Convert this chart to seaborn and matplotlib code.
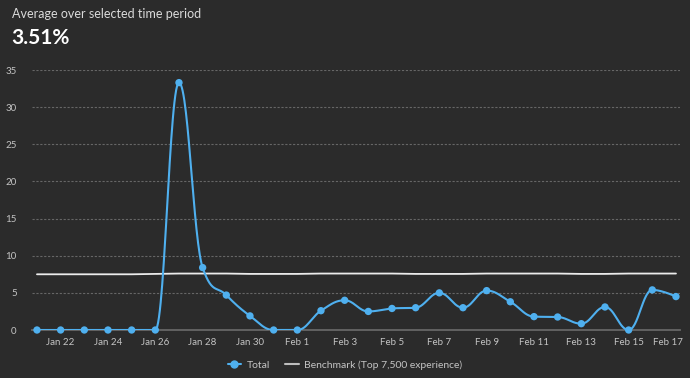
import seaborn as sns
import matplotlib.pyplot as plt
import matplotlib.transforms as mtransforms
import pandas as pd
import numpy as np
import warnings
warnings.filterwarnings('ignore')

# data, one value per day Jan 21 .. Feb 17
dates = pd.date_range("2024-01-21", "2024-02-17", freq="D")
total = [0, 0, 0, 0, 0, 0, 33.3, 8.4, 4.7, 1.9, 0, 0,
         2.6, 4.0, 2.5, 2.9, 3.0, 5.0, 3.0, 5.3, 3.8, 1.8, 1.75, 0.85,
         3.1, 0, 5.4, 4.5]
benchmark = [7.5, 7.5, 7.5, 7.5, 7.5, 7.55, 7.6, 7.6, 7.6, 7.55, 7.55, 7.55,
             7.6, 7.6, 7.6, 7.6, 7.55, 7.55, 7.55, 7.6, 7.6, 7.6, 7.6, 7.55,
             7.55, 7.6, 7.6, 7.6]
y_ticks = [0, 5, 10, 15, 20, 25, 30, 35]
headline = "3.51%"
subtitle = "Average over selected time period"

BG = "#2b2b2b"
BLUE = "#4fb0ef"
TXT = "#c4c4c4"


def spline_path(xs, ys, smoothing=1.5, steps=30):
    # bezier spline like the web chart draws it (control points clamped)
    n = len(xs)
    left = [(xs[i], ys[i]) for i in range(n)]
    right = [(xs[i], ys[i]) for i in range(n)]
    d = smoothing + 1
    for i in range(1, n - 1):
        px, py = xs[i], ys[i]
        lx, ly = xs[i - 1], ys[i - 1]
        nx, ny = xs[i + 1], ys[i + 1]
        lcx, lcy = (smoothing * px + lx) / d, (smoothing * py + ly) / d
        rcx, rcy = (smoothing * px + nx) / d, (smoothing * py + ny) / d
        if rcx != lcx:
            corr = (rcy - lcy) * (rcx - px) / (rcx - lcx) + py - rcy
            lcy += corr
            rcy += corr
        if lcy > ly and lcy > py:
            lcy = max(ly, py)
            rcy = 2 * py - lcy
        elif lcy < ly and lcy < py:
            lcy = min(ly, py)
            rcy = 2 * py - lcy
        if rcy > ny and rcy > py:
            rcy = max(ny, py)
            lcy = 2 * py - rcy
        elif rcy < ny and rcy < py:
            rcy = min(ny, py)
            lcy = 2 * py - rcy
        left[i] = (lcx, lcy)
        right[i] = (rcx, rcy)
    out_x, out_y = [xs[0]], [ys[0]]
    t = np.linspace(0, 1, steps)[1:]
    for i in range(n - 1):
        p0 = np.array([xs[i], ys[i]])
        p1 = np.array(right[i])
        p2 = np.array(left[i + 1])
        p3 = np.array([xs[i + 1], ys[i + 1]])
        pts = ((1 - t) ** 3)[:, None] * p0 + (3 * (1 - t) ** 2 * t)[:, None] * p1 \
            + (3 * (1 - t) * t ** 2)[:, None] * p2 + (t ** 3)[:, None] * p3
        out_x.extend(pts[:, 0])
        out_y.extend(pts[:, 1])
    return np.array(out_x), np.array(out_y)


day = np.arange(len(dates))
df = pd.DataFrame({"day": day, "Total": total, "Benchmark": benchmark})
sx, sy = spline_path(day.astype(float), np.array(total, dtype=float))
smooth = pd.DataFrame({"day": sx, "Total": sy})

sns.set_style("dark")
plt.rcParams['font.family'] = ['Lato', 'DejaVu Sans']

fig = plt.figure(figsize=(6.9, 3.78), dpi=100, facecolor=BG)
ax = fig.add_axes([32 / 690, 1 - 330 / 378, 648 / 690, 260 / 378])
ax.set_facecolor(BG)

sns.lineplot(data=df, x="day", y="Benchmark", ax=ax, color="#ececec", lw=1.3, zorder=2)
sns.lineplot(data=smooth, x="day", y="Total", ax=ax, color=BLUE, lw=1.5, zorder=3,
             sort=False)
sns.scatterplot(data=df, x="day", y="Total", ax=ax, color=BLUE, s=28, edgecolor="none",
                zorder=4, clip_on=False)

ax.set_xlim(-0.21, len(dates) - 1 + 0.17)
ax.set_ylim(0, 35)
ax.set_yticks(y_ticks)
ax.set_yticklabels([str(v) for v in y_ticks])
xt = day[1::2]
ax.set_xticks(xt)
ax.set_xticklabels([f"{dates[i]:%b} {dates[i].day}" for i in xt])
ax.set_xlabel("")
ax.set_ylabel("")

ax.grid(False)
for v in y_ticks[1:]:
    ax.axhline(v, color="#666666", lw=0.8, ls=(0, (2, 1.5)), zorder=1)
for s in ["top", "right", "left"]:
    ax.spines[s].set_visible(False)
ax.spines["bottom"].set_color("#666666")
ax.spines["bottom"].set_linewidth(1.3)
ax.tick_params(axis="x", colors=TXT, labelsize=7, length=3, width=1, color="#666666", pad=3)
ax.tick_params(axis="y", colors=TXT, labelsize=7, length=0, pad=11)

# last label pulled inside the figure
last = ax.get_xticklabels()[-1]
last.set_horizontalalignment("right")
last.set_transform(last.get_transform() + mtransforms.ScaledTranslation(0.07, 0, fig.dpi_scale_trans))

h1 = plt.Line2D([], [], color=BLUE, lw=1.5, marker="o", markersize=5)
h2 = plt.Line2D([], [], color="#bdbdbd", lw=1.5)
fig.legend([h1, h2], ["Total", "Benchmark (Top 7,500 experience)"], loc="center",
           bbox_to_anchor=(0.5, 1 - 365 / 378), ncol=2, frameon=False, fontsize=7.5,
           labelcolor=TXT, handlelength=1.3, handletextpad=0.5, columnspacing=1.5)

fig.text(12 / 690, 1 - 14 / 378, subtitle, color="#dadada", fontsize=9, va="center")
fig.text(11 / 690, 1 - 38 / 378, headline, color="white", fontsize=15, fontweight="bold",
         va="center")

fig.savefig("out.png", dpi=100, facecolor=BG)
